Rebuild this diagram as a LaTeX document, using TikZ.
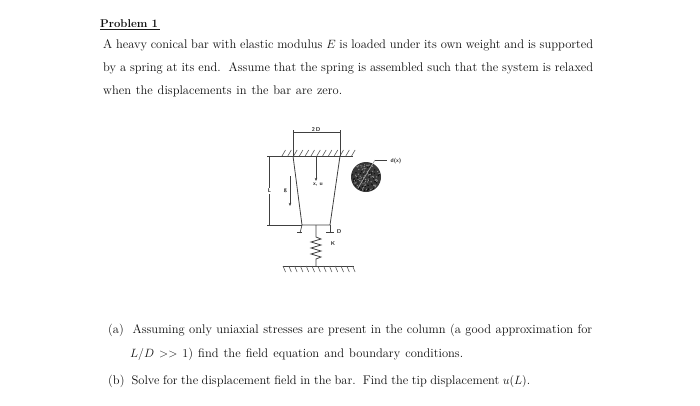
\documentclass[tikz,border=0pt]{standalone}
\usetikzlibrary{calc,arrows.meta}
\newcommand{\fitline}[2]{\makebox[#1pt][s]{#2}}
\tikzset{
  txt/.style={anchor=base west,inner sep=0pt,text=black!95,font=\fontsize{12.5pt}{14pt}\selectfont},
  lbl/.style={inner sep=0pt,text=black!85,font=\sffamily\bfseries\fontsize{5.6pt}{6pt}\selectfont},
  ln/.style={draw=black!75,line width=0.8pt},
  dim/.style={draw=black!75,line width=0.7pt},
  arr/.style={draw=black!75,line width=0.7pt,-{Stealth[length=3.2pt,width=2.6pt]}},
  hatch/.style={draw=black!65,line width=0.6pt}
}
\begin{document}
\begin{tikzpicture}[x=1pt,y=-1pt]
\useasboundingbox (0,0) rectangle (700,405);
% text
\node[txt,font=\bfseries\fontsize{11.3pt}{13pt}\selectfont] (title) at (100,27) {Problem 1};
\coordinate (ulstart) at (100,29.5);
\coordinate (ulend) at (160,29.5);
\draw[black!90,line width=0.9pt] (ulstart) -- (ulend);
\node[txt] (l1) at (103,48.5) {\fitline{490}{A heavy conical bar with elastic modulus $E$ is loaded under its own weight and is supported}};
\node[txt] (l2) at (103,71.5) {\fitline{490}{by a spring at its end.\ \ Assume that the spring is assembled such that the system is relaxed}};
\node[txt] (l3) at (103,94.5) {\fitline{239}{when the displacements in the bar are zero.}};
\node[txt] (a1) at (108,333) {\fitline{484}{(a)\ \ Assuming only uniaxial stresses are present in the column (a good approximation for}};
\node[txt] (a2) at (130,357) {\fitline{333}{$L/D>>1$) find the field equation and boundary conditions.}};
\node[txt] (b1) at (108,384) {\fitline{422}{(b)\ \ Solve for the displacement field in the bar.\ \ Find the tip displacement $u(L)$.}};
% walls
\coordinate (wl) at (282,156); \coordinate (wr) at (353,156);
\coordinate (gl) at (283,266); \coordinate (gr) at (354,266);
\draw[ln] (wl) -- (wr);
\draw[ln] (gl) -- (gr);
\foreach \i in {0,...,12}{
  \draw[hatch] ($(wl)+(\i*5.8,0)$) -- ++(3.5,-6);
  \draw[hatch] ($(gl)+(\i*5.8,0)$) -- ++(2.5,6);
}
% bar
\coordinate (tl) at (293,156); \coordinate (tr) at (340,156);
\coordinate (bl) at (302,225); \coordinate (br) at (330,225);
\draw[ln] (tl) -- (bl) -- (br) -- (tr);
% 2D dimension
\coordinate (d1) at (293,132); \coordinate (d2) at (340,132);
\draw[dim] (293,130) -- (tl); \draw[dim] (340,130) -- (tr);
\draw[dim] (d1) -- (d2);
\node[lbl] (twoD) at (316,129) {2\,D};
% L dimension
\coordinate (L1) at (269,156); \coordinate (L2) at (269,225);
\draw[dim] (267,156) -- (wl);
\draw[dim] (267,225) -- (bl);
\draw[dim] (L1) -- (L2);
\node[lbl,fill=white,inner ysep=1pt] (Llab) at (269.5,191) {L};
% g arrow
\coordinate (g1) at (290,176); \coordinate (g2) at (290,206);
\draw[arr] (g1) -- (g2);
\node[lbl] (glab) at (285.5,191) {g};
% x,u arrow
\coordinate (x1) at (316,156); \coordinate (x2) at (316,181);
\draw[arr] (x1) -- (x2);
\node[lbl] (xlab) at (318,184.5) {x, u};
% spring
\coordinate (s0) at (316,225); \coordinate (s1) at (316,266);
\draw[ln] (s0) -- (316,237)
  -- (321,239) -- (311,242) -- (321,245) -- (311,248) -- (321,251) -- (311,254) -- (321,257) -- (316,259)
  -- (s1);
\node[lbl] (K) at (333,244) {K};
% D tick marks
\draw[dim] (br) -- (330,233);
\draw[dim] (326,232) -- (334,232);
\node[lbl] (Dlab) at (339,232) {D};
\draw[dim] (bl) -- (300,233);
\draw[dim] (297,232) -- (302,232);
% cross-section
\node[circle,fill=black!78,minimum size=30pt,inner sep=0pt] (sec) at (366,177) {};
\pgfmathsetseed{7}
\foreach \i in {1,...,130}{
  \pgfmathsetmacro{\ang}{rnd*360}
  \pgfmathsetmacro{\rr}{14*sqrt(rnd)}
  \pgfmathsetmacro{\gry}{rnd>0.45 ? 45 : 95}
  \fill[black!\gry] ($(sec.center)+(\ang:\rr)$) circle (0.7);
}
\node[lbl] (dx) at (396,161) {d(x)};
\coordinate (lead) at (387,160);
\coordinate (bend) at (375,160);
\coordinate (inner) at (358,188);
\draw[black!35,line width=0.7pt] (inner) -- (bend);
\draw[dim] (bend) -- (lead);
\end{tikzpicture}
\end{document}
